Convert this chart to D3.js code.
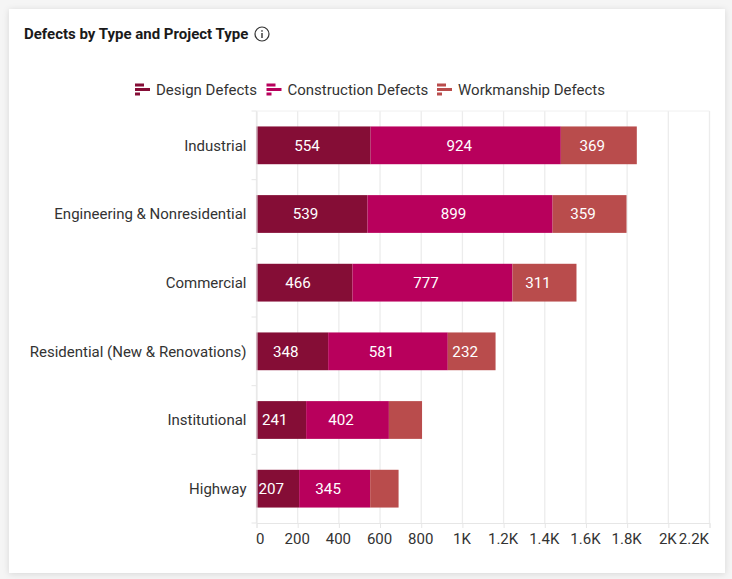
<!DOCTYPE html>
<html>
<head>
<meta charset="utf-8">
<script src="https://cdn.jsdelivr.net/npm/d3@7"></script>
<style>
  html, body { margin: 0; padding: 0; background: #f5f5f5; }
  svg { display: block; font-family: Roboto, sans-serif; }
  .tick-label { font-size: 15px; fill: #333; }
  .axis path, .axis line { stroke: #e6e6e6; }
  .grid line { stroke: #ececec; stroke-width: 1.3; }
</style>
</head>
<body>
<div id="chart"></div>
<script>
var categories = ["Industrial", "Engineering & Nonresidential", "Commercial", "Residential (New & Renovations)", "Institutional", "Highway"];
var seriesNames = ["Design Defects", "Construction Defects", "Workmanship Defects"];
var seriesColors = ["#850d36", "#b8005c", "#b94c4c"];
var designValues = [554, 539, 466, 348, 241, 207];
var constructionValues = [924, 899, 777, 581, 402, 345];
var workmanshipValues = [369, 359, 311, 232, 161, 138];
var tickValues = [0, 200, 400, 600, 800, 1000, 1200, 1400, 1600, 1800, 2000, 2200];
var tickLabels = ["0", "200", "400", "600", "800", "1K", "1.2K", "1.4K", "1.6K", "1.8K", "2K", "2.2K"];
var hiddenBelow = 200;

var margin = { top: 111, right: 22.5, bottom: 56, left: 256.5 };
var fullWidth = 732, fullHeight = 579;
var width = fullWidth - margin.left - margin.right;
var height = fullHeight - margin.top - margin.bottom;

var svg = d3.select("#chart").append("svg")
    .attr("width", fullWidth)
    .attr("height", fullHeight);

var defs = svg.append("defs");
var shadow = defs.append("filter").attr("id", "card-shadow")
    .attr("x", "-5%").attr("y", "-5%").attr("width", "110%").attr("height", "110%");
shadow.append("feDropShadow")
    .attr("dx", 0).attr("dy", 1).attr("stdDeviation", 3)
    .attr("flood-color", "#000").attr("flood-opacity", 0.13);

svg.append("rect")
    .attr("x", 9).attr("y", 9)
    .attr("width", 725 - 9).attr("height", 573 - 9)
    .attr("fill", "#fff")
    .attr("filter", "url(#card-shadow)");

svg.append("text")
    .attr("x", 24).attr("y", 39)
    .attr("font-size", 15).attr("font-weight", 700).attr("fill", "#1a1a1a")
    .text("Defects by Type and Project Type");

// info icon next to the title
var info = svg.append("g").attr("transform", "translate(262,34)");
info.append("circle").attr("r", 7).attr("fill", "none").attr("stroke", "#333").attr("stroke-width", 1.2);
info.append("rect").attr("x", -0.7).attr("y", -1).attr("width", 1.4).attr("height", 5).attr("fill", "#333");
info.append("rect").attr("x", -0.7).attr("y", -3.8).attr("width", 1.4).attr("height", 1.5).attr("fill", "#333");

// legend
var legendX = [135, 266.5, 437];
var legend = svg.selectAll(".legend-item").data(seriesNames).enter().append("g")
    .attr("class", "legend-item")
    .attr("transform", function(d, i) { return "translate(" + legendX[i] + ",83.5)"; });
legend.append("rect").attr("width", 9).attr("height", 3).attr("fill", function(d, i) { return seriesColors[i]; });
legend.append("rect").attr("y", 4.5).attr("width", 15).attr("height", 3).attr("fill", function(d, i) { return seriesColors[i]; });
legend.append("rect").attr("y", 9).attr("width", 5).attr("height", 3).attr("fill", function(d, i) { return seriesColors[i]; });
legend.append("text")
    .attr("x", 21).attr("y", 11.5)
    .attr("font-size", 15).attr("fill", "#333")
    .text(function(d) { return d; });

var x = d3.scaleLinear().domain([0, 2200]).range([0, width]);
var y = d3.scaleBand().domain(categories).range([0, height]).paddingInner(0.45).paddingOuter(0.225);
var yStep = d3.scaleBand().domain(categories).range([0, height]);

var plot = svg.append("g").attr("transform", "translate(" + margin.left + "," + margin.top + ")");

plot.append("g").attr("class", "grid")
    .selectAll("line").data(tickValues).enter().append("line")
    .attr("x1", function(d) { return x(d); })
    .attr("x2", function(d) { return x(d); })
    .attr("y1", 0).attr("y2", height);
plot.append("line").attr("x1", 0).attr("x2", width).attr("y1", 0).attr("y2", 0).attr("stroke", "#f0f0f0");

var rows = categories.map(function(c, i) {
    return { category: c, s0: designValues[i], s1: constructionValues[i], s2: workmanshipValues[i] };
});
var stacked = d3.stack().keys(["s0", "s1", "s2"])(rows);

var layers = plot.selectAll(".layer").data(stacked).enter().append("g")
    .attr("class", "layer")
    .attr("fill", function(d, i) { return seriesColors[i]; });

layers.selectAll("rect").data(function(d) { return d; }).enter().append("rect")
    .attr("x", function(d) { return x(d[0]); })
    .attr("y", function(d) { return y(d.data.category); })
    .attr("width", function(d) { return x(d[1]) - x(d[0]); })
    .attr("height", y.bandwidth());

// value labels sit a little left of centre, the small segments drop theirs
layers.selectAll("text").data(function(d) {
        return d.filter(function(p) { return p[1] - p[0] >= hiddenBelow; });
    }).enter().append("text")
    .attr("x", function(d) { return x((d[0] + d[1]) / 2) - 6.5; })
    .attr("y", function(d) { return y(d.data.category) + y.bandwidth() / 2 + 5.3; })
    .attr("text-anchor", "middle")
    .attr("font-size", 15.2).attr("font-weight", 400).attr("fill", "#fff")
    .text(function(d) { return d[1] - d[0]; });

var yAxis = d3.axisLeft(yStep).tickSize(0).tickPadding(10);
var yG = plot.append("g").attr("class", "axis").call(yAxis);
yG.selectAll("text").attr("class", "tick-label").attr("font-family", "Roboto, sans-serif").attr("dy", "0.35em");

// small marks between the categories
plot.append("g").attr("class", "axis").selectAll("line")
    .data(categories.concat(["end"])).enter().append("line")
    .attr("x1", -5).attr("x2", 0)
    .attr("y1", function(d, i) { return i * yStep.step(); })
    .attr("y2", function(d, i) { return i * yStep.step(); });

var xAxis = d3.axisBottom(x).tickValues(tickValues).tickSize(5).tickPadding(5)
    .tickFormat(function(d, i) { return tickLabels[i]; });
var xG = plot.append("g").attr("class", "axis")
    .attr("transform", "translate(0," + height + ")")
    .call(xAxis);
xG.selectAll("text").attr("class", "tick-label").attr("font-family", "Roboto, sans-serif")
    .attr("dx", -1)
    .attr("text-anchor", function(d, i) {
        if (i === 0) return "start";
        if (i === tickValues.length - 1) return "end";
        return "middle";
    });
</script>
</body>
</html>
